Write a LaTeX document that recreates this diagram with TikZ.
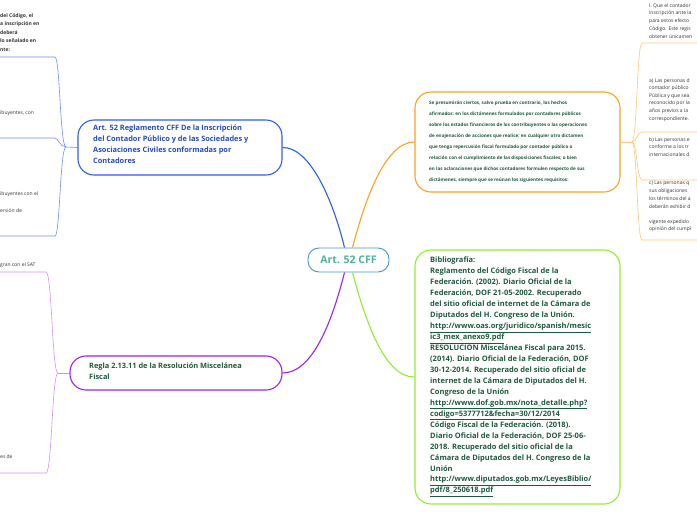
\documentclass[tikz,border=0pt]{standalone}
\usepackage{fontspec}
\setmainfont{Open Sans}
\usepackage{xcolor}
\definecolor{dg}{HTML}{1E5A3C}
\definecolor{bl}{HTML}{2F5BF0}
\definecolor{orn}{HTML}{FFA020}
\definecolor{pur}{HTML}{A020F0}
\definecolor{grn}{HTML}{90EE30}
\definecolor{ctr}{HTML}{4A90C8}
\definecolor{ctt}{HTML}{4DB39B}
\begin{document}
\begin{tikzpicture}[x=1pt,y=-1pt,
  box/.style={draw,rounded corners=16pt,line width=1.1pt,inner sep=0pt},
  tiny/.style={font=\fontsize{5}{7.8}\selectfont,text=black!80,align=left,anchor=north west,inner sep=0pt},
  tinyb/.style={tiny,font=\bfseries\fontsize{5}{8.5}\selectfont},
  link/.style={line width=1.1pt}]
\useasboundingbox (0,0) rectangle (697,520);
\clip (0,0) rectangle (697,520);
% center
\node[draw=ctr,rounded corners=11pt,line width=0.9pt,minimum width=81pt,minimum height=24pt,text=ctt,font=\bfseries\fontsize{10.5}{12}\selectfont] (c) at (348.5,260) {Art. 52 CFF};
% blue
\node[box,draw=bl,minimum width=204pt,minimum height=55pt] (b) at (180,147.5) {};
\node[anchor=north west,inner sep=0pt,text=bl!80!black,align=left,font=\bfseries\fontsize{7.4}{11}\selectfont] (bt) at (93,125) {Art. 52 Reglamento CFF De la Inscripción\\del Contador Público y de las Sociedades y\\Asociaciones Civiles conformadas por\\Contadores};
% orange
\node[box,draw=orn,minimum width=205pt,minimum height=100pt] (o) at (517.5,142) {};
\node[anchor=north west,inner sep=0pt,text=dg,align=left,font=\bfseries\fontsize{4.6}{11}\selectfont] (ot) at (429,101) {Se presumirán ciertos, salvo prueba en contrario, los hechos\\afirmados: en los dictámenes formulados por contadores públicos\\sobre los estados financieros de los contribuyentes o las operaciones\\de enajenación de acciones que realice; en cualquier otro dictamen\\que tenga repercusión fiscal formulado por contador público o\\relación con el cumplimiento de las disposiciones fiscales; o bien\\en las aclaraciones que dichos contadores formulen respecto de sus\\dictámenes, siempre que se reúnan los siguientes requisitos:};
% purple
\node[box,draw=pur,minimum width=212pt,minimum height=34pt] (p) at (176,373) {};
\node[anchor=north west,inner sep=0pt,text=dg,align=left,font=\bfseries\fontsize{7.4}{11}\selectfont] (pt) at (89,363) {Regla 2.13.11 de la Resolución Miscelánea\\Fiscal};
% green
\node[box,draw=grn,minimum width=205pt,minimum height=254pt] (g) at (517.5,377) {};
\node[anchor=north west,inner sep=0pt,text=dg,align=left,font=\bfseries\fontsize{7.5}{10.95}\selectfont] (gt) at (430,257) {Bibliografía:\\Reglamento del Código Fiscal de la\\Federación. (2002). Diario Oficial de la\\Federación, DOF 21-05-2002. Recuperado\\del sitio oficial de internet de la Cámara de\\Diputados del H. Congreso de la Unión.\\\underline{http://www.oas.org/juridico/spanish/mesic}\\\underline{ic3\_mex\_anexo9.pdf}\\RESOLUCIÓN Miscelánea Fiscal para 2015.\\(2014). Diario Oficial de la Federación, DOF\\30-12-2014. Recuperado del sitio oficial de\\internet de la Cámara de Diputados del H.\\Congreso de la Unión\\\underline{http://www.dof.gob.mx/nota\_detalle.php?}\\\underline{codigo=5377712\&fecha=30/12/2014}\\Código Fiscal de la Federación. (2018).\\Diario Oficial de la Federación, DOF 25-06-\\2018. Recuperado del sitio oficial de la\\Cámara de Diputados del H. Congreso de la\\Unión\\\underline{http://www.diputados.gob.mx/LeyesBiblio/}\\\underline{pdf/8\_250618.pdf}};
% center links
\draw[link,draw=bl] (c.north)++(-4,0) .. controls (333,200) and (310,147) .. (b.east);
\draw[link,draw=orn] (c.north)++(4,0) .. controls (365,200) and (385,142) .. (o.west);
\draw[link,draw=pur] (c.south)++(-4,0) .. controls (330,330) and (310,373) .. (p.east);
\draw[link,draw=grn] (c.south)++(4,0) .. controls (365,320) and (385,378) .. (g.west);
% left blue branch
\coordinate (bj) at (66,147);
\draw[bl!70,line width=0.6pt] (b.west) -- (bj);
\coordinate (b1) at (0,57); \coordinate (b2) at (0,138); \coordinate (b3) at (0,236);
\draw[bl!70,line width=0.6pt] (bj) .. controls (60,147) and (60,57) .. (55,57) -- (b1);
\draw[bl!70,line width=0.6pt] (bj) .. controls (60,147) and (58,138) .. (55,138) -- (b2);
\draw[bl!70,line width=0.6pt] (bj) .. controls (60,147) and (60,236) .. (55,236) -- (b3);
\node[tinyb] (lt1) at (0,13) {del Código, el\\a inscripción en\\deberá\\lo señalado en\\nte:};
\node[tiny] (lt2) at (0,110) {ibuyentes, con};
\node[tiny] (lt3) at (0,191) {ibuyentes con el};
\node[tiny] (lt4) at (0,208) {ersión de};
% purple branch
\coordinate (pj) at (58,373);
\draw[pur!50,line width=0.6pt] (p.west) -- (pj);
\coordinate (p1) at (0,272); \coordinate (p2) at (0,473);
\draw[pur!50,line width=0.6pt] (pj) .. controls (52,373) and (52,272) .. (46,272) -- (p1);
\draw[pur!50,line width=0.6pt] (pj) .. controls (52,373) and (52,473) .. (46,473) -- (p2);
\node[tiny] (lp1) at (0,262) {gran con el SAT};
\node[tiny] (lp2) at (0,454) {es de};
% orange branch
\coordinate (oj) at (632,142);
\draw[orn!60,line width=0.6pt] (o.east) -- (oj);
\foreach \y/\n in {43/1,132/2,180/3,240/4}{
  \coordinate (oe\n) at (697,\y);
  \draw[orn!60,line width=0.6pt] (oj) .. controls (637,142) and (637,\y) .. (642,\y) -- (oe\n);
}
\node[tiny] (or1) at (649,3) {I. Que el contador\\inscripción ante la\\para estos efecto\\Código. Este regis\\obtener únicamen};
\node[tiny,font=\fontsize{5}{7.6}\selectfont] (or2) at (649,78) {a) Las personas d\\contador público\\Pública y que sea\\reconocido por la\\años previos a la\\correspondiente.};
\node[tiny] (or3) at (649,137) {b) Las personas e\\conforme a los tr\\internacionales d};
\node[tiny] (or4) at (649,181) {c) Las personas q\\sus obligaciones\\los términos del a\\deberán exhibir d};
\node[tiny] (or5) at (649,219) {vigente expedido\\opinión del cumpl};
\end{tikzpicture}
\end{document}
